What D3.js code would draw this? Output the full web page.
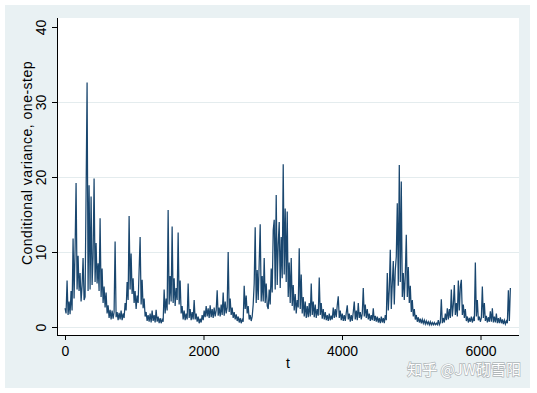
<!DOCTYPE html>
<html><head><meta charset="utf-8">
<script src="https://cdn.jsdelivr.net/npm/d3@7/dist/d3.min.js"></script>
<style>body{margin:0;background:#fff}svg{display:block}</style>
</head><body><svg id="c" width="537" height="393"></svg>
<script>
const yTicks = [0, 10, 20, 30, 40];
const xTicks = [0, 2000, 4000, 6000];
const gridValues = [0, 10, 20, 30];
const xTitle = "t";
const yTitle = "Conditional variance, one-step";
const watermark = "知乎 @JW砌雪阳";
// thinned series: one reading every 14.45 time steps, starting at t = 1
const tStart = 1, tStep = 14.45;
const condVar = [
2.5,1.8,6.2,1.6,3.4,1.7,4.8,2.2,11.8,3.8,
10.3,19.2,5.0,9.5,4.8,7.2,3.4,5.5,9.2,3.6,
4.0,17.8,32.6,4.8,18.9,5.0,17.4,5.6,9.4,19.8,
6.0,11.2,5.8,8.5,4.8,14.5,4.0,7.8,3.2,5.4,
2.6,4.6,1.8,2.9,1.2,2.3,1.0,2.2,1.1,2.0,
11.4,1.3,2.0,0.9,1.9,1.0,2.2,0.9,1.8,1.2,
3.2,2.2,6.0,3.6,14.8,5.0,9.8,4.4,6.5,3.2,
4.8,2.4,4.2,3.2,7.6,12.0,3.0,6.3,2.5,3.8,
1.4,2.0,0.8,1.6,0.7,1.8,0.6,2.2,0.8,1.6,
0.6,2.3,0.7,1.4,0.5,1.2,0.5,1.0,0.7,5.0,
1.8,3.8,2.2,15.6,3.0,6.8,3.4,13.4,3.2,6.5,
2.8,5.2,3.6,12.6,3.0,6.2,1.8,2.8,1.0,2.2,
0.9,1.8,1.0,5.8,1.2,2.4,0.9,2.0,1.0,3.6,
1.0,1.8,0.7,1.4,0.5,1.1,0.6,1.6,0.9,2.2,
1.3,2.8,1.4,2.5,1.2,2.9,1.3,2.4,1.2,2.6,
1.4,2.2,4.9,1.5,2.6,1.4,3.0,1.6,4.6,1.5,
3.4,1.8,2.6,10.0,2.0,3.8,1.6,2.6,1.2,2.0,
1.0,1.7,0.8,1.4,0.6,1.2,0.5,1.0,0.7,5.5,
2.4,4.2,1.8,2.8,1.0,1.6,0.8,1.4,3.0,5.8,
13.3,3.2,7.6,3.6,8.6,13.7,3.4,6.8,3.4,9.2,
3.2,5.8,2.8,2.4,5.0,3.0,7.8,4.6,12.9,14.3,
5.0,17.6,5.6,11.0,14.0,5.2,12.0,6.5,21.7,7.0,
15.8,6.0,15.4,4.0,8.6,3.2,9.2,2.8,5.6,2.2,
4.4,1.8,3.6,2.6,10.5,2.4,7.0,1.8,4.0,1.4,
3.4,1.2,2.8,1.3,3.2,1.4,5.8,1.6,3.4,1.3,
3.0,1.2,2.4,1.5,6.6,1.6,3.2,1.1,2.4,1.0,
2.0,0.9,1.6,0.8,1.8,0.9,1.5,1.0,2.6,1.2,
2.4,1.3,2.9,4.1,1.2,2.2,0.9,1.8,0.8,1.6,
0.8,1.9,2.9,1.0,1.8,0.7,1.6,0.8,2.0,3.4,
1.0,2.2,0.9,3.2,1.2,2.0,1.0,1.8,5.2,1.4,
3.0,1.2,2.4,1.0,1.8,0.8,1.6,0.9,2.5,0.8,
1.5,0.7,1.4,0.6,1.2,0.5,1.4,0.6,1.2,0.5,
1.6,0.9,7.2,2.2,5.0,10.3,2.4,5.8,8.8,3.0,
7.6,9.4,16.5,5.5,21.6,6.0,19.4,4.0,7.2,3.6,
7.0,12.3,4.0,8.0,3.2,5.5,2.0,3.6,1.4,2.4,
1.0,1.6,0.7,1.3,0.6,1.1,0.5,1.0,0.5,0.9,
0.4,0.8,0.4,0.7,0.3,0.7,0.3,0.6,0.3,0.6,
0.3,0.5,0.3,0.9,0.3,0.6,3.7,0.5,1.2,0.6,
1.8,0.9,2.5,1.0,2.4,1.2,5.0,1.4,3.0,5.6,
1.6,3.2,1.4,6.2,2.2,5.4,6.3,1.6,3.0,1.2,
2.4,0.8,1.4,0.6,1.2,0.7,1.4,0.6,1.2,0.8,
8.6,1.4,3.6,0.9,1.4,0.7,1.2,5.4,1.2,3.2,
0.8,1.5,0.6,1.3,0.7,2.1,0.7,2.5,0.6,1.4,
0.6,1.8,0.5,1.2,0.5,1.3,0.5,1.0,0.4,0.9,
0.4,0.8,0.5,4.9,0.8,5.2
];
const series = condVar.map((v, i) => ({t: tStart + i * tStep, v}));

const svg = d3.select("#c");
const FONT = "'Liberation Sans', Arial, sans-serif";
const plot = {l: 57, r: 519, t: 18, b: 335};

svg.append("rect").attr("x", 5).attr("y", 5).attr("width", 525).attr("height", 383).attr("fill", "#e9f1f3");
svg.append("rect").attr("x", plot.l).attr("y", plot.t).attr("width", plot.r - plot.l).attr("height", plot.b - plot.t).attr("fill", "#ffffff");

const x = d3.scaleLinear().domain([0, 6000]).range([65, 480.5]);
const y = d3.scaleLinear().domain([0, 40]).range([327, 27]);

svg.append("g").selectAll("line").data(gridValues).join("line")
  .attr("x1", plot.l).attr("x2", plot.r)
  .attr("y1", d => y(d) + 0.5).attr("y2", d => y(d) + 0.5)
  .attr("stroke", "#e4ecee").attr("stroke-width", 1);

svg.append("path").datum(series)
  .attr("fill", "none").attr("stroke", "#1a476f").attr("stroke-width", 1.25)
  .attr("stroke-linejoin", "miter")
  .attr("d", d3.line().x(d => x(d.t)).y(d => y(d.v)));

// y axis
const gy = svg.append("g").attr("transform", `translate(${plot.l},0)`)
  .call(d3.axisLeft(y).tickValues(yTicks).tickSize(5).tickSizeOuter(0).tickFormat(d3.format("d")));
gy.select(".domain").remove();
gy.selectAll(".tick line").attr("stroke", "#000");
gy.selectAll(".tick text")
  .attr("x", 0).attr("dy", 0)
  .attr("transform", "translate(-11,0) rotate(-90)")
  .attr("text-anchor", "middle")
  .attr("font-family", FONT).attr("font-size", 14).attr("fill", "#000");
svg.append("line").attr("x1", plot.l + 0.5).attr("x2", plot.l + 0.5)
  .attr("y1", plot.t).attr("y2", plot.b).attr("stroke", "#000");

// x axis
const gx = svg.append("g").attr("transform", `translate(0,${plot.b})`)
  .call(d3.axisBottom(x).tickValues(xTicks).tickSize(5).tickSizeOuter(0).tickPadding(6).tickFormat(d3.format("d")));
gx.select(".domain").remove();
gx.selectAll(".tick line").attr("stroke", "#000");
gx.selectAll(".tick text").attr("font-family", FONT).attr("font-size", 14).attr("fill", "#000");
svg.append("line").attr("x1", plot.l).attr("x2", plot.r)
  .attr("y1", plot.b + 0.5).attr("y2", plot.b + 0.5).attr("stroke", "#000");

// titles
svg.append("text").attr("x", (plot.l + plot.r) / 2).attr("y", 368)
  .attr("text-anchor", "middle").attr("font-family", FONT).attr("font-size", 14).text(xTitle);
svg.append("text").attr("transform", "translate(31.5,163) rotate(-90)")
  .attr("text-anchor", "middle").attr("font-family", FONT).attr("font-size", 14)
  .attr("letter-spacing", 0.5).text(yTitle);

// watermark
const wm = svg.append("g").attr("font-family", "'Noto Sans CJK SC', sans-serif").attr("font-size", 15);
wm.append("text").attr("x", 521).attr("y", 375).attr("text-anchor", "end")
  .attr("fill", "none").attr("stroke", "#8a8f92").attr("stroke-width", 1.4).attr("opacity", 0.6).text(watermark);
wm.append("text").attr("x", 521).attr("y", 375).attr("text-anchor", "end")
  .attr("fill", "#ffffff").text(watermark);
</script></body></html>
